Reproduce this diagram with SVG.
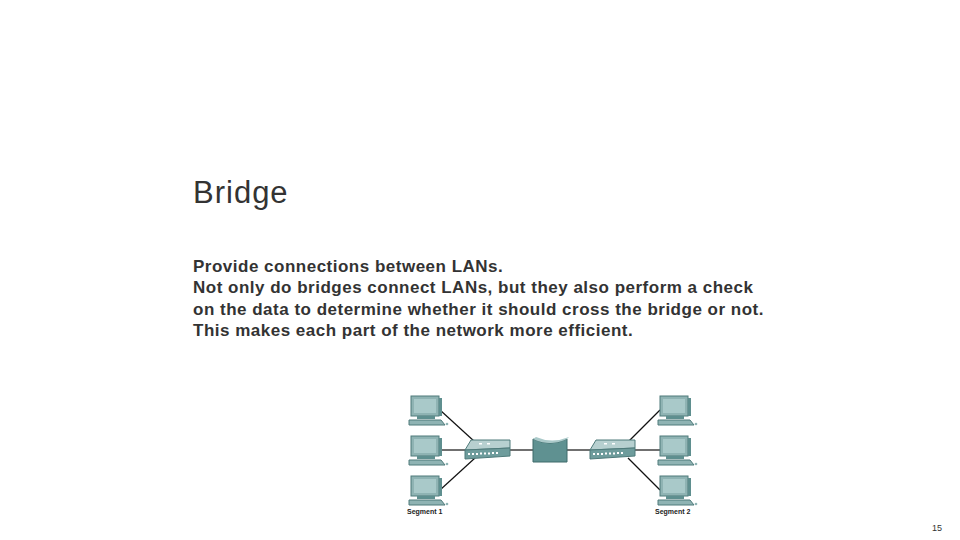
<svg xmlns="http://www.w3.org/2000/svg" width="960" height="540" viewBox="0 0 960 540">
<style>
.t{font-family:"Liberation Sans",Arial,sans-serif;fill:#333}
.b{font-size:17px;font-weight:bold;letter-spacing:0.5px}
.ln{stroke:#111;stroke-width:1.2;fill:none}
.mon{fill:#8fb3b3;stroke:#4f7b7b;stroke-width:1}
.scr{fill:#a9c9c9}
.dk{fill:#5f8f8f}
.lbl{font-family:"Liberation Sans",Arial,sans-serif;font-size:7px;font-weight:bold;fill:#222}
</style>
<defs>
<g id="pc">
<rect class="mon" x="0" y="0" width="28" height="20"/>
<rect class="scr" x="3" y="3" width="22" height="14"/>
<rect class="dk" x="28" y="2" width="3" height="18"/>
<rect class="dk" x="6" y="20" width="18" height="3"/>
<polygon class="mon" points="-2,24 30,24 34,29 -2,29"/>
<circle cx="36" cy="28" r="1.3" fill="#8fb3b3"/>
</g>
<g id="hub">
<polygon fill="#b7d0d0" stroke="#4f7b7b" points="6,0 45,0 45,8 0,10"/>
<polygon fill="#6e9c9c" stroke="#4f7b7b" points="0,10 45,8 45,16 0,19"/>
<g fill="#fff"><rect x="3" y="13" width="2" height="2"/><rect x="7" y="13" width="2" height="2"/><rect x="11" y="13" width="2" height="2"/><rect x="15" y="12.5" width="2" height="2"/><rect x="19" y="12.5" width="2" height="2"/><rect x="23" y="12.5" width="2" height="2"/><rect x="27" y="12" width="2" height="2"/><rect x="31" y="12" width="2" height="2"/><rect x="14" y="3" width="3" height="1.5"/><rect x="22" y="3" width="3" height="1.5"/></g>
</g>
</defs>
<text class="t" x="193" y="203" font-size="31" letter-spacing="1" fill="#555">Bridge</text>
<g class="t b">
<text x="193" y="272">Provide connections between LANs.</text>
<text x="193" y="293">Not only do bridges connect LANs, but they also perform a check</text>
<text x="193" y="315">on the data to determine whether it should cross the bridge or not.</text>
<text x="193" y="336">This makes each part of the network more efficient.</text>
</g>
<g id="connectors">
<line class="ln" x1="440" y1="410" x2="475" y2="442"/>
<line class="ln" x1="440" y1="450" x2="466" y2="450"/>
<line class="ln" x1="440" y1="490" x2="475" y2="458"/>
<line class="ln" x1="510" y1="450" x2="533" y2="450"/>
<line class="ln" x1="567" y1="450" x2="590" y2="450"/>
<line class="ln" x1="628" y1="442" x2="660" y2="410"/>
<line class="ln" x1="635" y1="450" x2="660" y2="450"/>
<line class="ln" x1="628" y1="458" x2="660" y2="490"/>
</g>
<g id="pc1"><use href="#pc" x="411" y="396"/></g>
<g id="pc2"><use href="#pc" x="411" y="436"/></g>
<g id="pc3"><use href="#pc" x="411" y="476"/></g>
<g id="pc4"><use href="#pc" x="660" y="396"/></g>
<g id="pc5"><use href="#pc" x="660" y="436"/></g>
<g id="pc6"><use href="#pc" x="660" y="476"/></g>
<g id="hub1"><use href="#hub" x="465" y="440"/></g>
<g id="hub2"><use href="#hub" x="590" y="440"/></g>
<g id="bridge">
<path d="M533,439 Q550,447 567,439 L567,462 L533,462 Z" fill="#5f9191" stroke="#3f6b6b"/>
<path d="M533,439 L536,437 Q552,444 569,437 L567,439 Q550,447 533,439 Z" fill="#a9c9c9"/>
</g>
<text class="lbl" x="407" y="514">Segment 1</text>
<text class="lbl" x="655" y="514">Segment 2</text>
<text class="t" x="932" y="531" font-size="9">15</text>
</svg>
